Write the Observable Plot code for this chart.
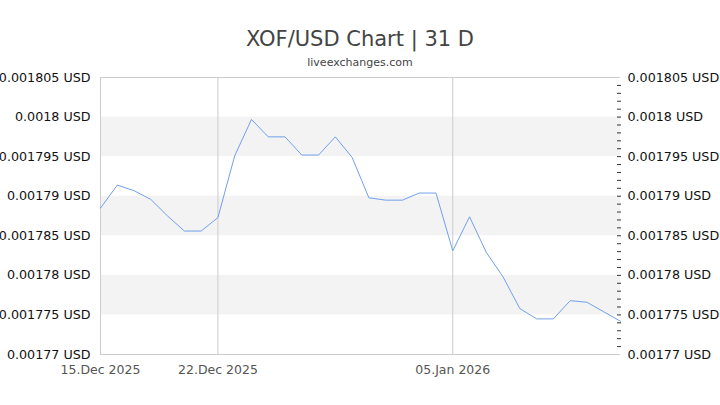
<!DOCTYPE html>
<html>
<head>
<meta charset="utf-8">
<script src="https://cdn.jsdelivr.net/npm/d3@7"></script>
<script src="https://cdn.jsdelivr.net/npm/@observablehq/plot@0.6"></script>
<style>
  html, body { margin: 0; padding: 0; background: #fff; }
  body { width: 720px; height: 405px; overflow: hidden; font-family: "DejaVu Sans", sans-serif; }
  #head { position: relative; width: 720px; height: 70px; }
  #title { position: absolute; left: 0; width: 720px; top: 29px; text-align: center; font-size: 21px; line-height: 1; color: #444; }
  #sub { position: absolute; left: 0; width: 720px; top: 56.5px; text-align: center; font-size: 11px; line-height: 1; color: #444; }
  #chart svg { display: block; }
</style>
</head>
<body>
<div id="head">
  <div id="title">XOF/USD Chart | 31 D</div>
  <div id="sub">liveexchanges.com</div>
</div>
<div id="chart"></div>
<script>
// Dates: 15 Dec 2025 .. 15 Jan 2026 (daily)
const startDate = "2025-12-15";
const rates = [
  0.0017885, 0.0017914, 0.0017907, 0.0017896, 0.0017875, 0.0017856, 0.0017856, 0.0017873,
  0.0017951, 0.0017997, 0.0017975, 0.0017975, 0.0017952, 0.0017952, 0.0017975, 0.0017949,
  0.0017898, 0.0017895, 0.0017895, 0.0017904, 0.0017904, 0.0017831, 0.0017874, 0.0017829,
  0.0017798, 0.0017758, 0.0017745, 0.0017745, 0.0017768, 0.0017766, 0.0017754, 0.0017742
];
const yTicks = [0.00177, 0.001775, 0.00178, 0.001785, 0.00179, 0.001795, 0.0018, 0.001805];
const yTickLabels = ["0.00177 USD", "0.001775 USD", "0.00178 USD", "0.001785 USD", "0.00179 USD", "0.001795 USD", "0.0018 USD", "0.001805 USD"];
const xTickDates = ["2025-12-15", "2025-12-22", "2026-01-05"];
const xTickLabels = ["15.Dec 2025", "22.Dec 2025", "05.Jan 2026"];
const bandLow = [0.001775, 0.001785, 0.001795];
const bandHigh = [0.00178, 0.00179, 0.0018];

const t0 = new Date(startDate + "T00:00:00Z");
const data = rates.map((v, i) => ({ date: new Date(t0.getTime() + i * 86400000), value: v }));
const xTicks = xTickDates.map(d => new Date(d + "T00:00:00Z"));
const bands = bandLow.map((lo, i) => ({ lo, hi: bandHigh[i] }));
const minorTicks = d3.range(1, 35).map(i => +(0.00177 + i * 0.000001).toFixed(7));
const xDomain = [data[0].date, data[data.length - 1].date];
const yDomain = [yTicks[0], yTicks[yTicks.length - 1]];

const chart = Plot.plot({
  width: 720,
  height: 335,
  marginLeft: 100,
  marginRight: 100,
  marginTop: 7,
  marginBottom: 51,
  style: { fontFamily: "DejaVu Sans, sans-serif", background: "#fff", overflow: "visible" },
  x: { type: "utc", domain: xDomain },
  y: { domain: yDomain },
  marks: [
    Plot.rect(bands, { y1: "lo", y2: "hi", fill: "#f3f3f3" }),
    Plot.ruleX(xTicks, { stroke: "#cccccc", strokeWidth: 1 }),
    Plot.ruleY([yDomain[0], yDomain[1]], { stroke: "#cccccc", strokeWidth: 1 }),
    Plot.line(data, { x: "date", y: "value", stroke: "#72a0ec", strokeWidth: 1 }),
    Plot.axisX(xTicks, {
      tickSize: 0, tickPadding: 11, fontSize: 12.5, fill: "#555",
      tickFormat: d => xTickLabels[xTicks.findIndex(t => +t === +d)], label: null
    }),
    Plot.axisY(yTicks, {
      anchor: "left", tickSize: 0, tickPadding: 10, fontSize: 12.7, fill: "#111",
      tickFormat: d => yTickLabels[yTicks.indexOf(d)], label: null
    }),
    Plot.axisY(minorTicks, {
      anchor: "right", tickSize: 4, dx: -4, stroke: "#333", tickFormat: () => "", label: null
    }),
    Plot.axisY(yTicks, {
      anchor: "right", tickSize: 0, tickPadding: 7, fontSize: 12.7, fill: "#111",
      tickFormat: d => yTickLabels[yTicks.indexOf(d)], label: null
    })
  ]
});
document.getElementById("chart").appendChild(chart);
</script>
</body>
</html>
